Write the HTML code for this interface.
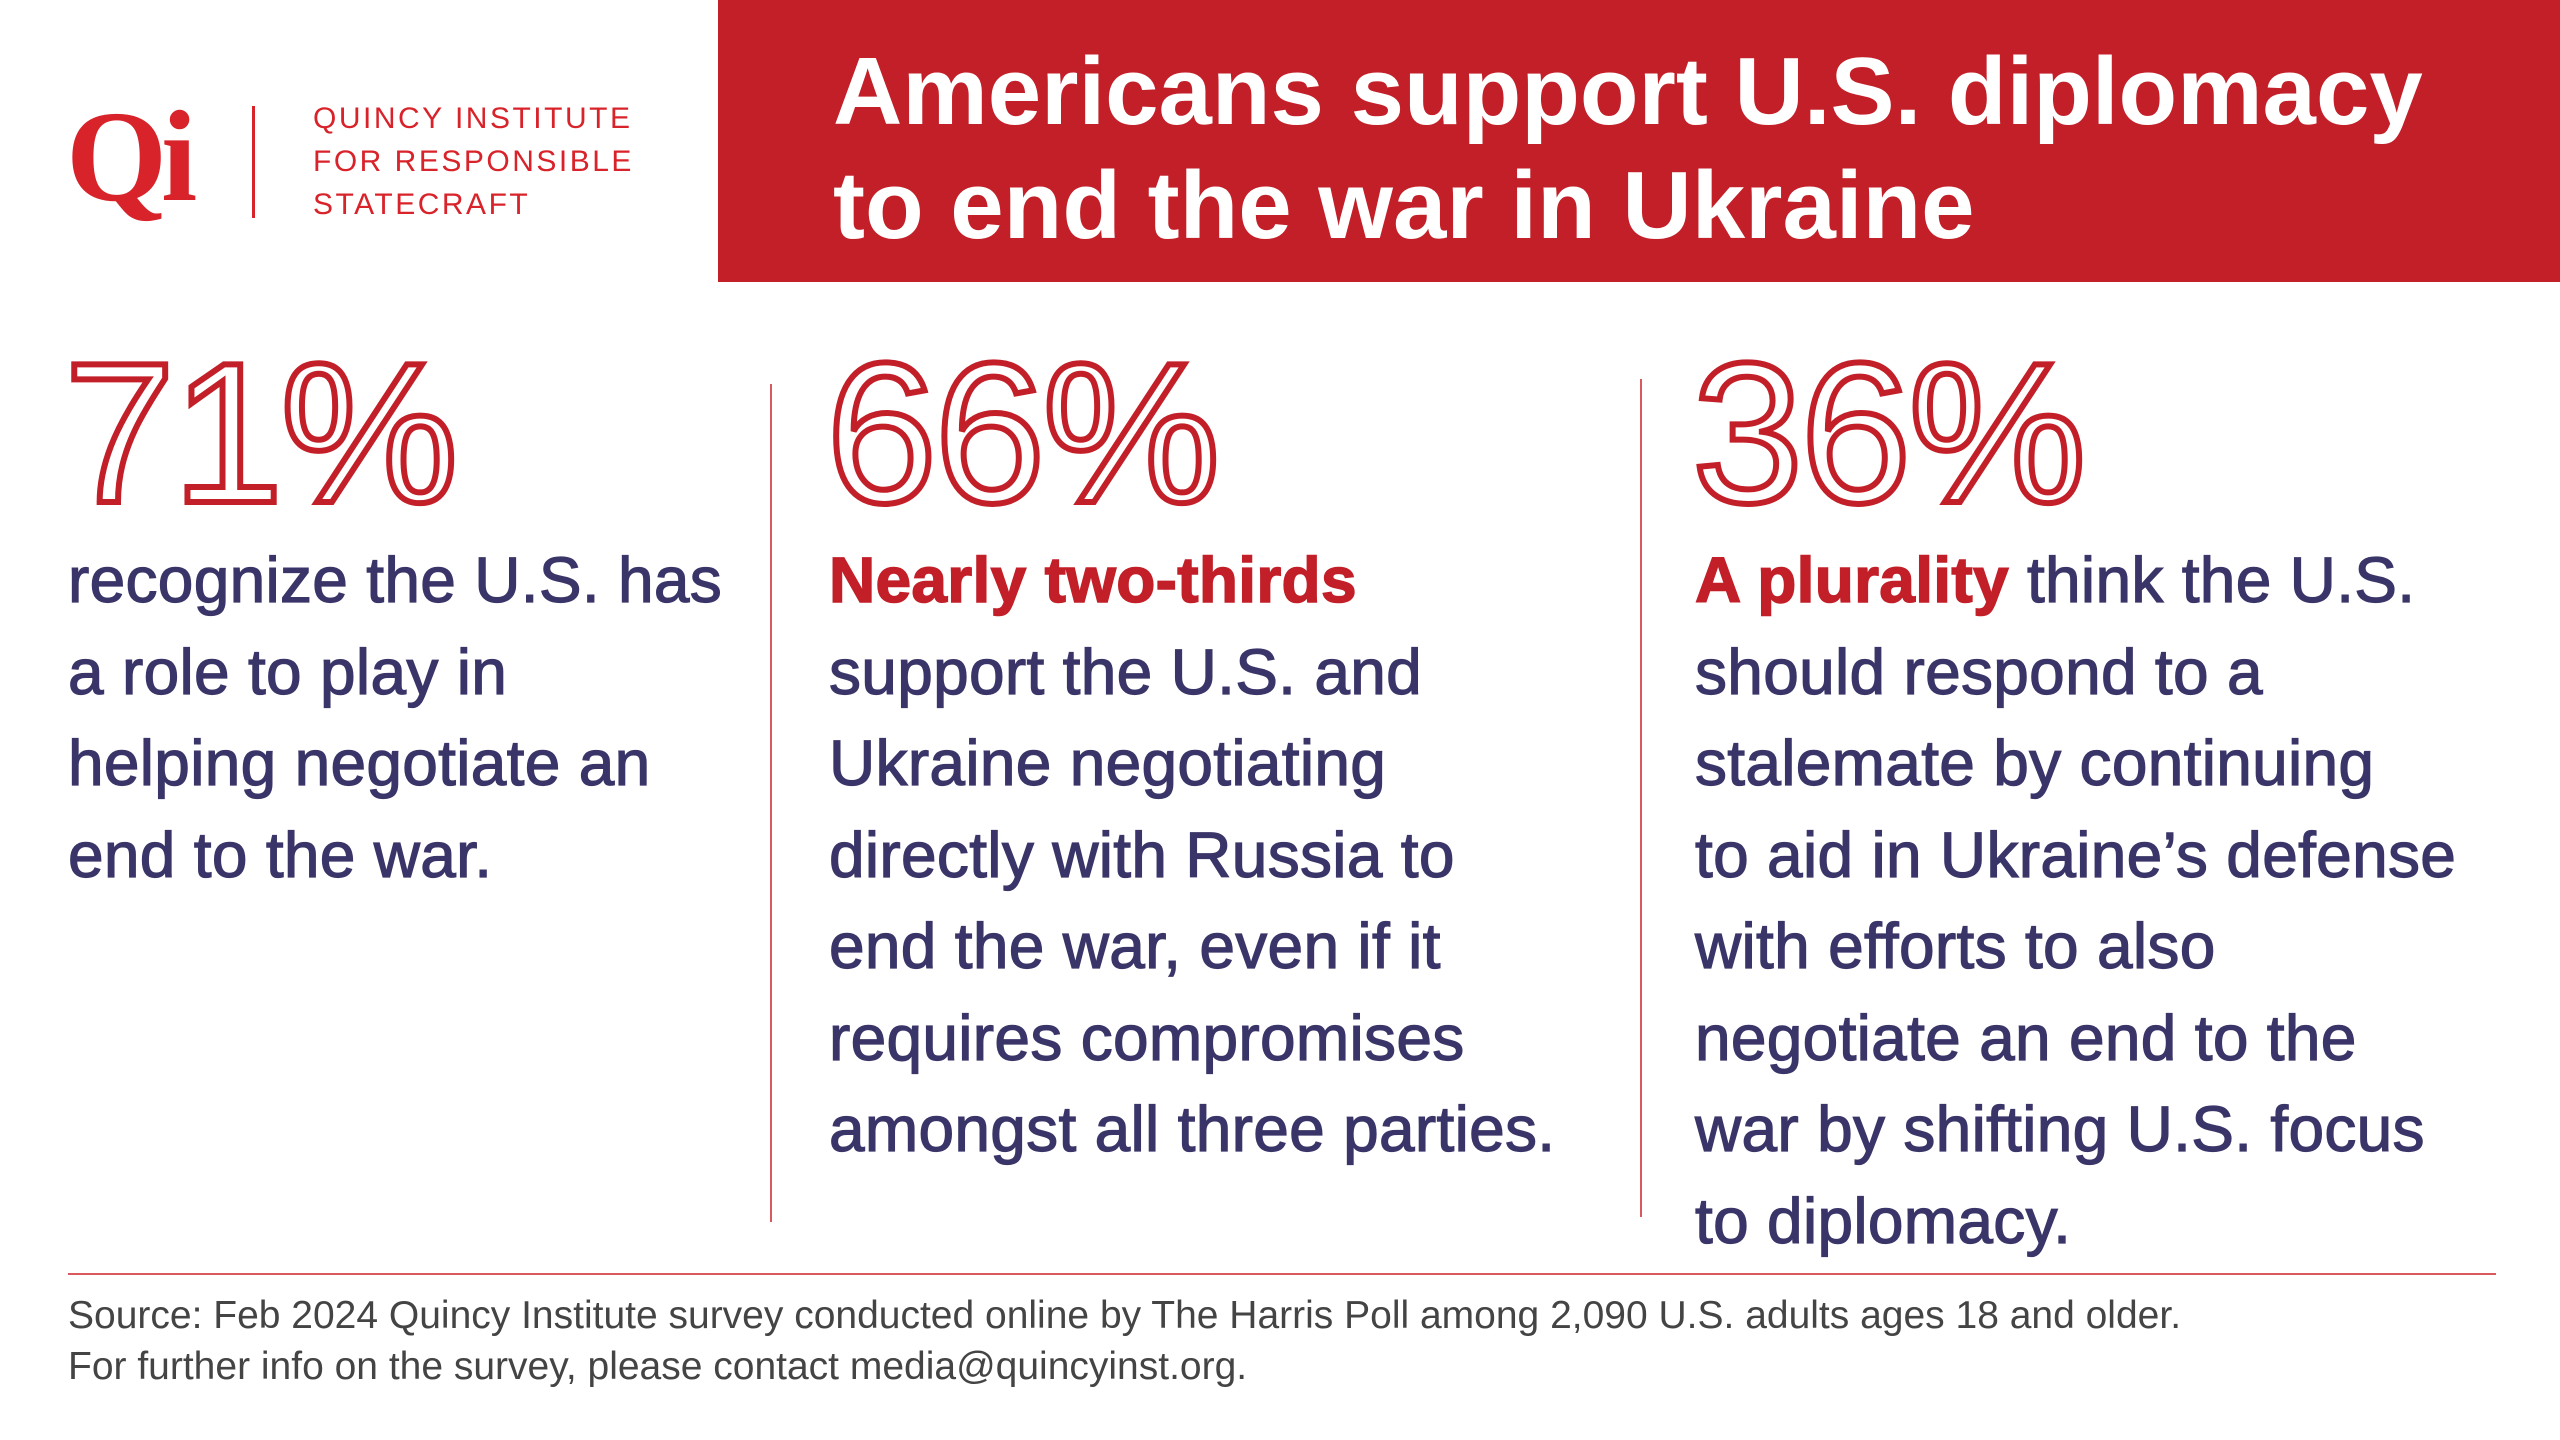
<!DOCTYPE html>
<html><head><meta charset="utf-8"><style>
*{margin:0;padding:0;box-sizing:border-box}
body{width:2560px;height:1440px;background:#fff;position:relative;overflow:hidden;font-family:"Liberation Sans",sans-serif}
.a{position:absolute}
.hdr{left:718px;top:0;width:1842px;height:282px;background:#c21f28}
.title{left:833px;top:35px;color:#fff;font-weight:bold;font-size:96px;line-height:114px;white-space:nowrap}
.qi{left:66px;top:92px;font-family:"Liberation Serif",serif;font-weight:bold;color:#d8232a;font-size:130px;line-height:130px;letter-spacing:-6px}
.vl{left:252px;top:106px;width:3px;height:112px;background:#d8232a}
.org{left:313px;top:97px;color:#d8232a;font-size:30px;line-height:43px;letter-spacing:2.5px}
.big{top:334px;font-size:200px;line-height:200px;color:#fff;-webkit-text-stroke:6px #c21f28;letter-spacing:-3px;white-space:nowrap}
.body{top:535px;font-size:64px;line-height:91.5px;color:#3a3568;-webkit-text-stroke:1.2px #3a3568;white-space:nowrap;letter-spacing:0.3px}
.red{color:#c21f28;-webkit-text-stroke:1.5px #c21f28;font-weight:bold}
.div{width:2px;background:#d9595f}
.rule{left:68px;top:1273px;width:2428px;height:2px;background:#d9595f}
.src{left:68px;top:1290px;font-size:39px;line-height:51px;color:#444}
</style></head><body>
<div class="a hdr"></div>
<div class="a title">Americans support U.S. diplomacy<br>to end the war in Ukraine</div>
<div class="a qi">Qi</div>
<div class="a vl"></div>
<div class="a org">QUINCY INSTITUTE<br>FOR RESPONSIBLE<br>STATECRAFT</div>

<div class="a big" style="left:64px">71%</div>
<div class="a big" style="left:826px">66%</div>
<div class="a big" style="left:1692px">36%</div>

<div class="a div" style="left:770px;top:384px;height:838px"></div>
<div class="a div" style="left:1640px;top:379px;height:838px"></div>

<div class="a body" style="left:68px">recognize the U.S. has<br>a role to play in<br>helping negotiate an<br>end to the war.</div>
<div class="a body" style="left:829px"><span class="red">Nearly two-thirds</span><br>support the U.S. and<br>Ukraine negotiating<br>directly with Russia to<br>end the war, even if it<br>requires compromises<br>amongst all three parties.</div>
<div class="a body" style="left:1695px"><span class="red">A plurality</span> think the U.S.<br>should respond to a<br>stalemate by continuing<br>to aid in Ukraine’s defense<br>with efforts to also<br>negotiate an end to the<br>war by shifting U.S. focus<br>to diplomacy.</div>

<div class="a rule"></div>
<div class="a src">Source: Feb 2024 Quincy Institute survey conducted online by The Harris Poll among 2,090 U.S. adults ages 18 and older.<br>For further info on the survey, please contact media@quincyinst.org.</div>
</body></html>
